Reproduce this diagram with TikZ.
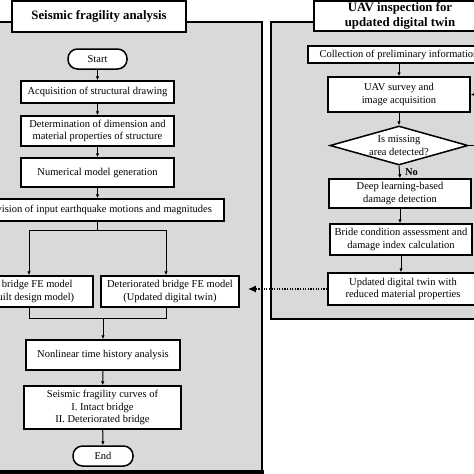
\documentclass[tikz,border=0pt]{standalone}
\usepackage{fontspec}
\setmainfont{Liberation Serif}
\usetikzlibrary{shapes.geometric,arrows.meta,calc}
\definecolor{panelgray}{RGB}{217,217,217}
\tikzset{
 body/.style={font=\fontsize{10.5}{12.8}\selectfont},
 stepbox/.style={draw, fill=white, line width=1.5pt, align=center, inner sep=0pt, body},
 termbox/.style={stepbox, rounded corners=9.5pt},
 titlebox/.style={draw, fill=white, line width=1.8pt, align=center, inner sep=0pt, font=\fontsize{12.8}{15}\selectfont\bfseries},
 panel/.style={fill=panelgray, draw, line width=2pt},
 flow/.style={line width=1pt, -{Latex[length=4pt,width=3.5pt]}},
 link/.style={line width=1pt},
 feed/.style={line width=1.6pt, dash pattern=on 1.3pt off 1.3pt, -{Latex[length=8pt,width=7pt]}, shorten >=8pt},
}
\begin{document}
\begin{tikzpicture}[x=1pt,y=-1pt]
\useasboundingbox (0,0) rectangle (474,474);
\clip (0,0) rectangle (474,474);
% panels
\draw[panel] (-20,22) rectangle (262,471);
\draw[line width=3.5pt] (-20,472) -- (263.5,472);
\draw[panel] (271,22) rectangle (495,319);
% left column
\node[titlebox, minimum width=174pt, minimum height=31pt] (titleL) at (99,16.5) {Seismic fragility analysis};
\node[termbox, minimum width=59pt, minimum height=20pt] (start) at (97.5,59) {Start};
\node[stepbox, minimum width=153pt, minimum height=22pt] (acq) at (97.5,92) {Acquisition of structural drawing};
\node[stepbox, minimum width=153pt, minimum height=30pt] (det) at (97.5,131) {Determination of dimension and\\material properties of structure};
\node[stepbox, minimum width=153pt, minimum height=29pt] (num) at (97.5,172.5) {Numerical model generation};
\node[stepbox, minimum width=254pt, minimum height=22pt] (prov) at (97,210) {Provision of input earthquake motions and magnitudes};
\node[stepbox, minimum width=138pt, minimum height=31pt] (intact) at (24,291.5) {Intact bridge FE model\\(As-built design model)};
\node[stepbox, minimum width=138pt, minimum height=31pt] (deter) at (170,291.5) {Deteriorated bridge FE model\\(Updated digital twin)};
\node[stepbox, minimum width=154pt, minimum height=30pt] (nonlin) at (103,355) {Nonlinear time history analysis};
\node[stepbox, minimum width=157pt, minimum height=43pt] (frag) at (102.5,407.5) {Seismic fragility curves of\\I. Intact bridge\\II. Deteriorated bridge};
\node[termbox, minimum width=60pt, minimum height=20pt] (end) at (103,456) {End};
% right column
\node[titlebox, minimum width=172pt, minimum height=30pt] (titleR) at (400,16) {UAV inspection for\\updated digital twin};
\node[stepbox, minimum width=182pt, minimum height=17pt] (coll) at (399,54.5) {Collection of preliminary information};
\node[stepbox, minimum width=142pt, minimum height=35pt] (uav) at (399,94.5) {UAV survey and\\image acquisition};
\node[diamond, draw, fill=white, line width=1.5pt, minimum width=138pt, minimum height=39pt, inner sep=0pt] (diam) at (399,145.5) {};
\node[body, align=center, inner sep=0pt] (diamtext) at (diam) {Is missing\\area detected?};
\node[stepbox, minimum width=142pt, minimum height=29pt] (deep) at (400,193.5) {Deep learning-based\\damage detection};
\node[stepbox, minimum width=142pt, minimum height=31pt] (bride) at (401,239.5) {Bride condition assessment and\\damage index calculation};
\node[stepbox, minimum width=150pt, minimum height=32pt] (upd) at (403,289) {Updated digital twin with\\reduced material properties};
% connectors left
\draw[flow] (start) -- (acq);
\draw[flow] (acq) -- (det);
\draw[flow] (det) -- (num);
\draw[flow] (num.south) -- (num.south |- prov.north);
\coordinate (sL) at (29,230);
\coordinate (sR) at (166,230);
\draw[link] (prov.south) -- (prov.south |- sL);
\draw[link] (sL) -- (sR);
\draw[flow] (sL) -- (sL |- intact.north);
\draw[flow] (sR) -- (sR |- deter.north);
\coordinate (mL) at (29,318);
\coordinate (mR) at (166,318);
\draw[link] (mL |- intact.south) -- (mL) -- (mR) -- (mR |- deter.south);
\draw[flow] (nonlin.north |- mL) -- (nonlin.north);
\draw[flow] (nonlin) -- (frag);
\draw[flow] (frag) -- (end);
% connectors right
\draw[flow] (coll.south -| uav.north) -- (uav.north);
\draw[flow] (uav) -- (diam);
\draw[flow] (diam.south) -- node[right, inner sep=0pt, xshift=5pt, font=\fontsize{10.5}{12.8}\selectfont\bfseries] {No} (deep.north);
\draw[flow] (deep.south) -- (deep.south |- bride.north);
\draw[flow] (bride.south) -- (bride.south |- upd.north);
\coordinate (loopR) at (492,0);
\draw[flow] (diam.east) -- (diam.east -| loopR) |- (uav.east);
\draw[feed] (upd.west) -- (upd.west -| deter.east);
\end{tikzpicture}
\end{document}
